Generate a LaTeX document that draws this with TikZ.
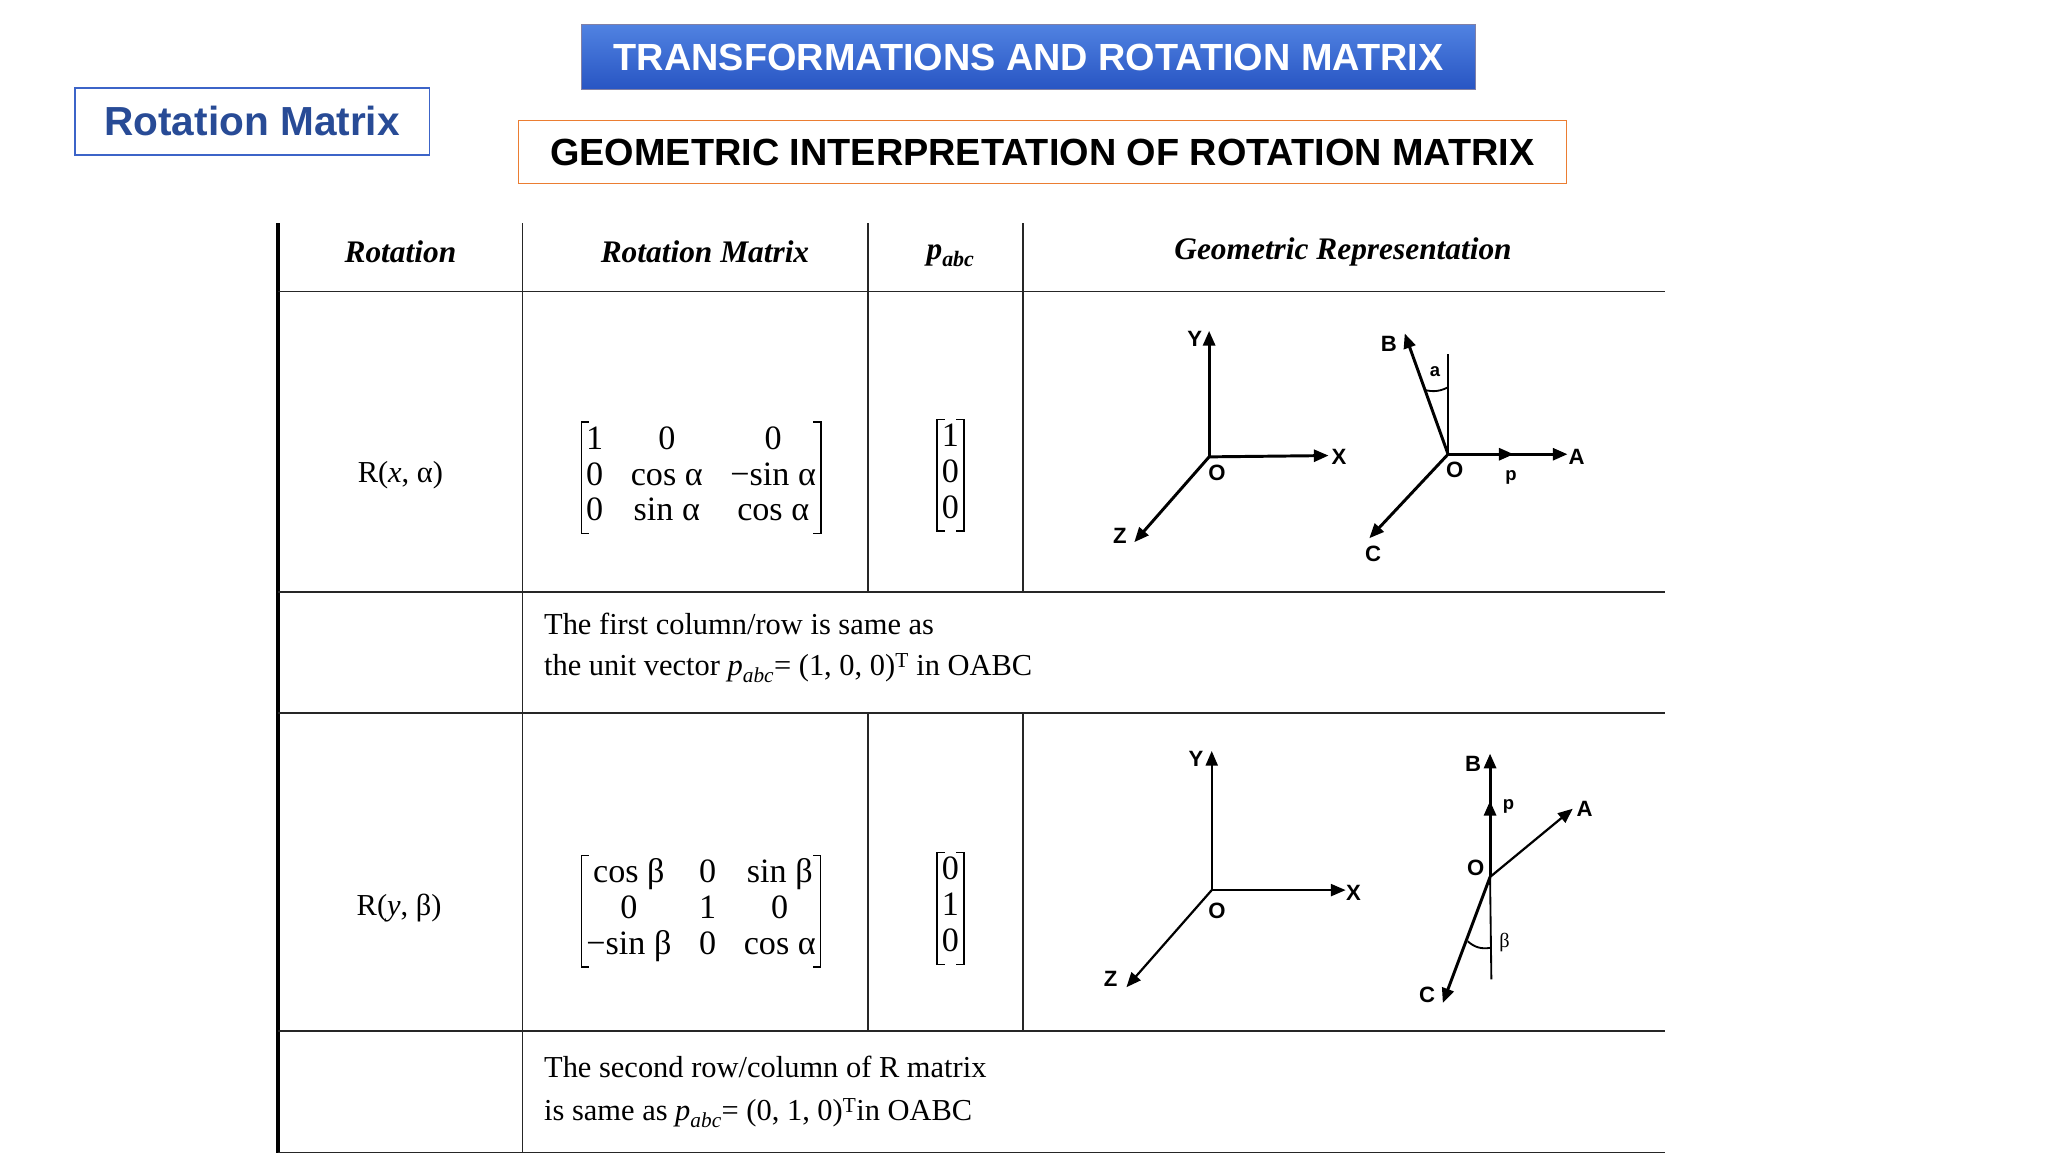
\documentclass[tikz,border=0pt]{standalone}
\usepackage{fontspec}
\setmainfont{Liberation Serif}
\setsansfont{Liberation Sans}
\usetikzlibrary{arrows.meta}
\newcommand{\fs}[1]{\fontsize{#1}{#1}\selectfont}
\newcommand{\pabc}{\textit{p}\textsubscript{\textit{abc}}}
\newcommand{\brk}[1]{\draw[line width=1.6pt] ([xshift=8pt]#1.north west) -- (#1.north west) -- (#1.south west) -- ([xshift=8pt]#1.south west);
 \draw[line width=1.6pt] ([xshift=-8pt]#1.north east) -- (#1.north east) -- (#1.south east) -- ([xshift=-8pt]#1.south east);}
\tikzset{
 tline/.style={line width=2pt,black!85},
 ax/.style={line width=3.2pt,-{Triangle[length=16pt,width=13pt]}},
 thin/.style={line width=2pt},
 lbl/.style={font=\sffamily\bfseries\fs{24}},
 hdr/.style={font=\rmfamily\itshape\bfseries\fs{34}},
 body/.style={font=\rmfamily\fs{33},anchor=west},
 mat/.style={font=\rmfamily\fs{37}\renewcommand{\arraystretch}{1.05},inner xsep=5pt,inner ysep=2pt},
 rlab/.style={font=\rmfamily\fs{33}},
}
\begin{document}
\begin{tikzpicture}[x=0.05cm,y=0.05cm]
\useasboundingbox (0,0) rectangle (1560,-877.5);
% title
\node (title) [draw=blue!30!black!50,line width=1pt,top color={rgb,255:red,80;green,130;blue,225},bottom color={rgb,255:red,40;green,85;blue,195},minimum width=681*0.05cm,minimum height=49*0.05cm,font=\sffamily\bfseries\fs{41},text=white] at (783.5,-43.5) {TRANSFORMATIONS AND ROTATION MATRIX};
\node (rm) [draw={rgb,255:red,60;green,100;blue,200},line width=1.5pt,minimum width=270*0.05cm,minimum height=51*0.05cm,font=\sffamily\bfseries\fs{44},text={rgb,255:red,40;green,75;blue,150}] at (192,-92.5) {Rotation Matrix};
\node (geo) [draw={rgb,255:red,235;green,125;blue,50},line width=1.5pt,minimum width=798*0.05cm,minimum height=48*0.05cm,font=\sffamily\bfseries\fs{41}] at (794,-116) {GEOMETRIC INTERPRETATION OF ROTATION MATRIX};
% table
\draw[line width=4pt] (212,-170) -- (212,-878);
\draw[tline] (398,-170) -- (398,-878);
\draw[tline] (661,-170) -- (661,-451) (661,-543) -- (661,-785);
\draw[tline] (779,-170) -- (779,-451) (779,-543) -- (779,-785);
\foreach \y in {222,451,543,785,878} \draw[tline] (212,-\y) -- (1268,-\y);
\node (h1) [hdr] at (305,-192) {Rotation};
\node (h2) [hdr] at (537,-192) {Rotation Matrix};
\node (h3) [hdr] at (724,-195) {\pabc};
\node (h4) [hdr] at (1023,-192) {Geometric Representation};
\node (r1) [rlab] at (305,-362) {R(\textit{x}, α)};
\node (m1) [mat] at (534,-364) {\begin{tabular}{@{}c@{\hspace{30pt}}c@{\hspace{30pt}}c@{}}1&0&0\\0&cos α&−sin α\\0&sin α&cos α\end{tabular}};
\brk{m1}
\node (v1) [mat] at (724,-362) {\begin{tabular}{@{}c@{}}1\\0\\0\end{tabular}};
\brk{v1}
\node (t1) [body] at (412,-475) {The first column/row is same as};
\node (t2) [body] at (412,-509) {the unit vector \textit{p}\textsubscript{\textit{abc}}= (1, 0, 0)\textsuperscript{T} in OABC};
\node (r2) [rlab] at (304,-692) {R(\textit{y}, β)};
\node (m2) [mat] at (534,-694) {\begin{tabular}{@{}c@{\hspace{30pt}}c@{\hspace{30pt}}c@{}}cos β&0&sin β\\0&1&0\\−sin β&0&cos α\end{tabular}};
\brk{m2}
\node (v2) [mat] at (724,-692) {\begin{tabular}{@{}c@{}}0\\1\\0\end{tabular}};
\brk{v2}
\node (t3) [body] at (412,-813) {The second row/column of R matrix};
\node (t4) [body] at (412,-848) {is same as \textit{p}\textsubscript{\textit{abc}}= (0, 1, 0)\textsuperscript{T}in OABC};
% figure 1 left
\coordinate (o1) at (921,-348);
\node (y1) [lbl] at (910,-258) {Y};
\node (x1) [lbl] at (1020,-348) {X};
\node (z1) [lbl] at (853,-408) {Z};
\node (ol1) [lbl] at (927,-360) {O};
\draw[ax] (o1) -- (921,-252);
\draw[ax] (o1) -- (1012,-347);
\draw[ax] (o1) -- (864,-413);
% figure 1 right
\coordinate (o2) at (1103,-346);
\node (b2) [lbl] at (1058,-262) {B};
\node (a2) [lbl] at (1201,-348) {A};
\node (c2) [lbl] at (1046,-422) {C};
\node (ol2) [lbl] at (1108,-358) {O};
\node (p2) [lbl,font=\sffamily\bfseries\fs{20}] at (1151,-364) {p};
\node (al) [lbl,font=\sffamily\bfseries\fs{20}] at (1093,-283) {a};
\draw[thin] (o2) -- (1103,-270);
\draw[ax] (o2) -- (1070,-254);
\draw[ax] (o2) -- (1194,-346);
\draw[ax] (o2) -- (1153,-346);
\draw[ax] (o2) -- (1043,-410);
\draw[thin] (1085,-297) to[bend right=20] (1103,-295);
% figure 2 left
\coordinate (o3) at (923,-678);
\node (y3) [lbl] at (911,-578) {Y};
\node (x3) [lbl] at (1031,-680) {X};
\node (z3) [lbl] at (846,-746) {Z};
\node (ol3) [lbl] at (927,-694) {O};
\draw[ax,line width=2.4pt] (o3) -- (923,-572);
\draw[ax,line width=2.4pt] (o3) -- (1025,-678);
\draw[ax,line width=2.4pt] (o3) -- (858,-752);
% figure 2 right
\coordinate (o4) at (1135,-668);
\node (b4) [lbl] at (1122,-582) {B};
\node (p4) [lbl,font=\sffamily\bfseries\fs{20}] at (1149,-614) {p};
\node (a4) [lbl] at (1207,-616) {A};
\node (c4) [lbl] at (1087,-758) {C};
\node (ol4) [lbl] at (1124,-661) {O};
\node (be) [lbl,font=\rmfamily\fs{22}] at (1146,-718) {β};
\draw[ax] (o4) -- (1135,-574);
\draw[ax] (o4) -- (1135,-610);
\draw[ax,line width=2.4pt] (o4) -- (1198,-616);
\draw[ax] (o4) -- (1099,-764);
\draw[thin] (1135,-668) -- (1136,-746);
\draw[thin] (1118,-717) to[bend right=25] (1135,-722);
\end{tikzpicture}
\end{document}
